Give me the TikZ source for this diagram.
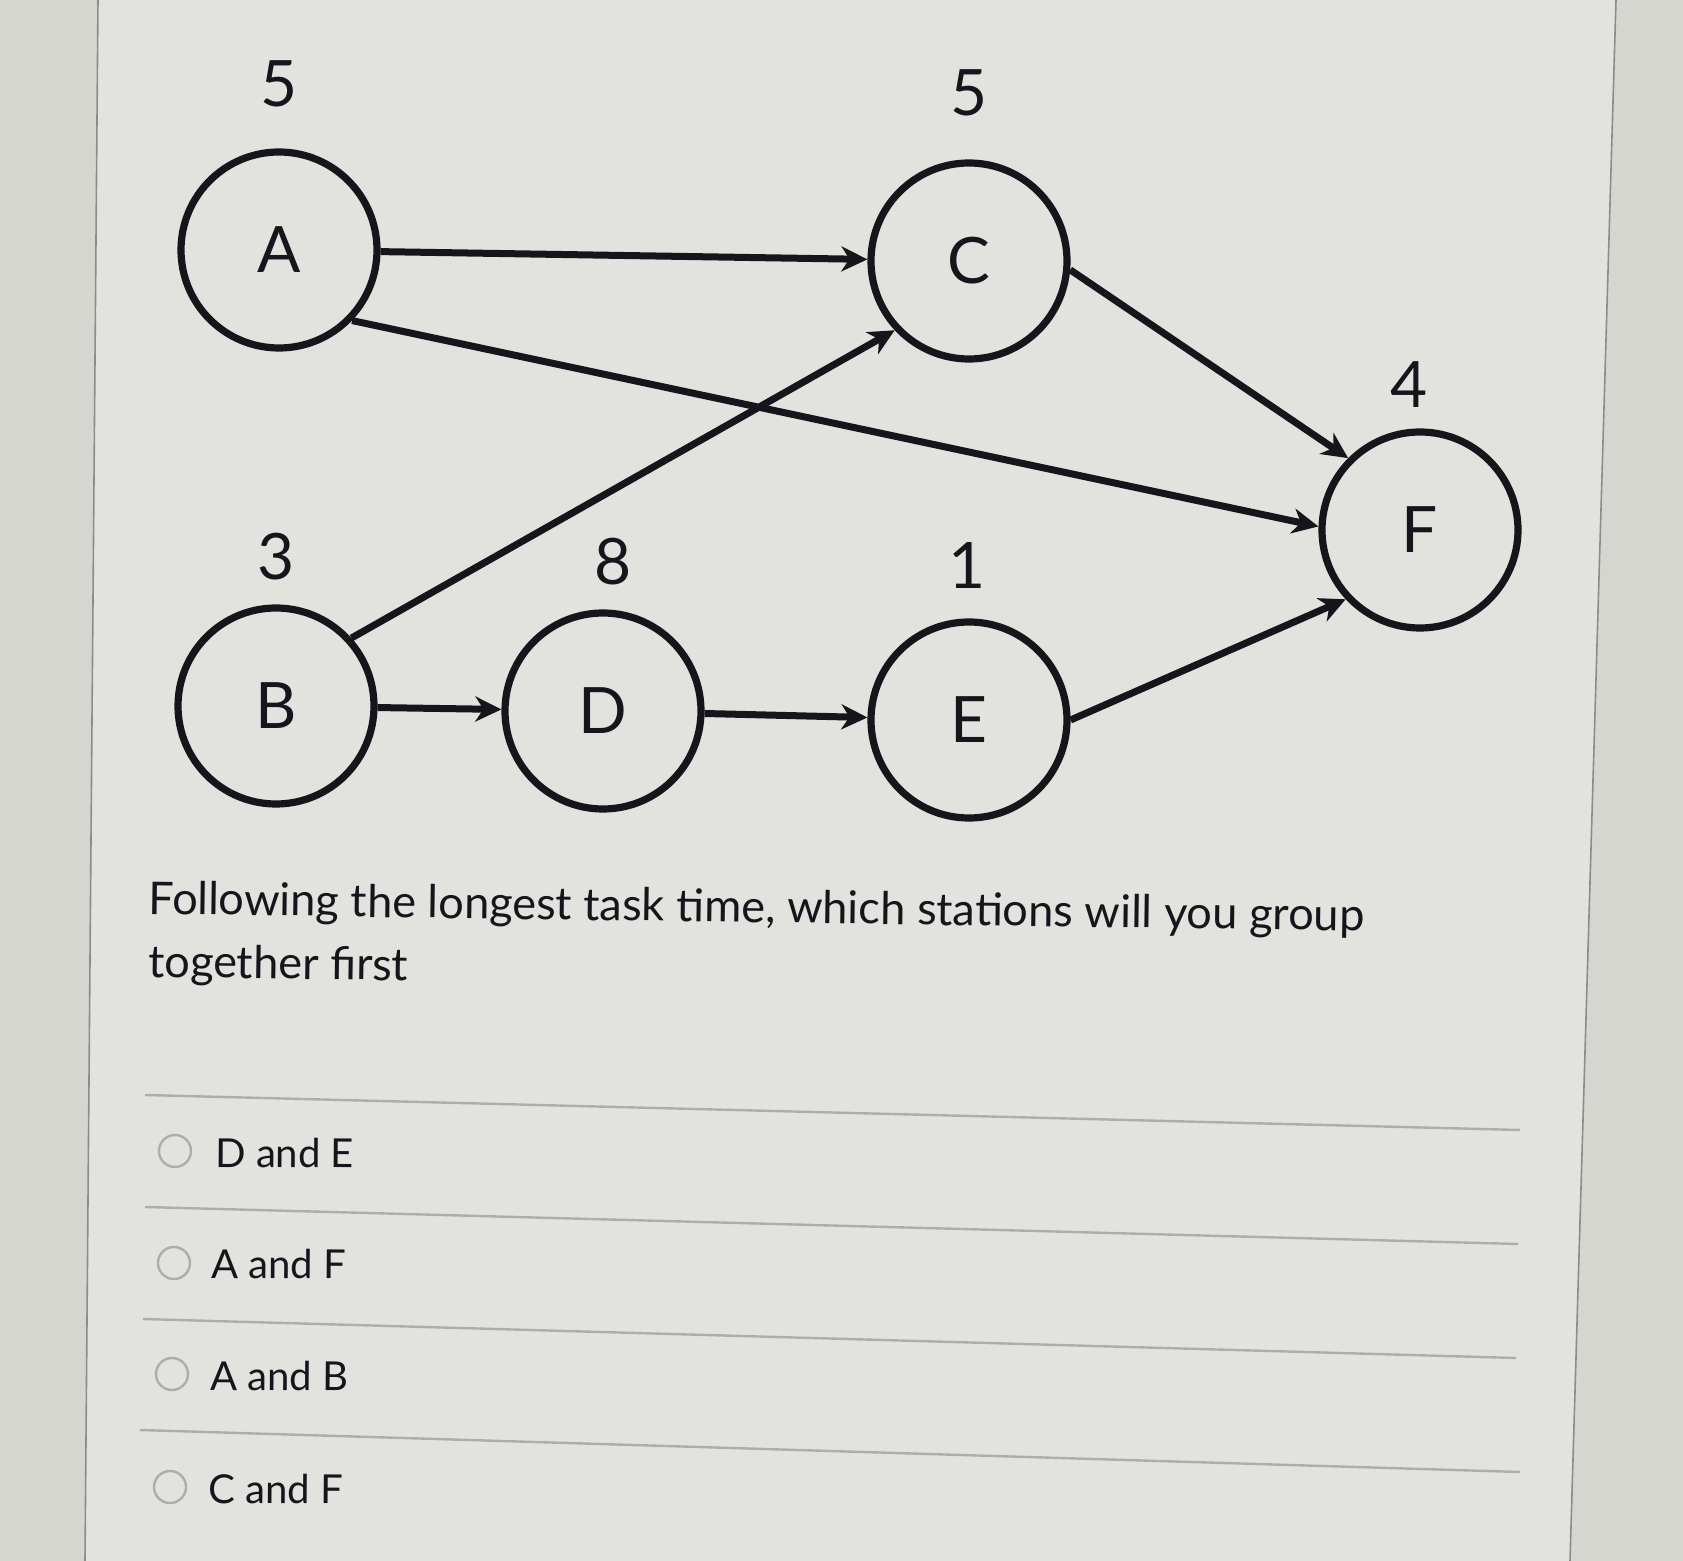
\documentclass[tikz,border=0pt]{standalone}
\usepackage{fontspec}
\setmainfont{Lato}
\usetikzlibrary{arrows.meta}
\definecolor{panel}{HTML}{E2E2DE}
\definecolor{outside}{HTML}{D6D6D1}
\definecolor{ink}{HTML}{17151C}
\definecolor{sepgray}{HTML}{ADADA9}
\definecolor{bordergray}{HTML}{8C8C8C}
\begin{document}
\begin{tikzpicture}[x=0.5pt,y=-0.5pt,
  station/.style={circle,draw=ink,line width=3.6pt,minimum size=98pt,inner sep=0pt,
    font=\fontsize{32}{38}\selectfont,text=ink},
  tasktime/.style={anchor=base,font=\fontsize{32}{38}\selectfont,text=ink,inner sep=0pt},
  flow/.style={draw=ink,line width=3.5pt,-{Stealth[length=13pt,width=12.5pt,inset=4pt]}},
  question/.style={anchor=base west,inner sep=0pt,rotate=-0.8,font=\fontsize{22.6}{27}\selectfont,text=ink},
  option/.style={anchor=base west,inner sep=0pt,rotate=-0.4,font=\fontsize{20}{24}\selectfont,text=ink},
  radio/.style={circle,draw=sepgray,line width=1.2pt,minimum size=16pt,inner sep=0pt},
  sepline/.style={draw=sepgray,line width=1.2pt}
]
\useasboundingbox (0,0) rectangle (1683,1561);
\fill[outside] (0,0) rectangle (1683,1561);
\fill[panel] (98,0) -- (1616,0) -- (1570,1561) -- (85,1561) -- cycle;
\draw[bordergray,line width=0.8pt] (98,0) -- (85,1561);
\draw[bordergray,line width=0.8pt] (1616,0) -- (1570,1561);

% stations
\node[station] (A) at (279,250) {A};
\node[station] (C) at (969,261) {C};
\node[station] (F) at (1420,530) {F};
\node[station] (B) at (276,706) {B};
\node[station] (D) at (603,711) {D};
\node[station] (E) at (969,720) {E};

% task times
\node[tasktime] (tA) at (279,107) {5};
\node[tasktime] (tC) at (969,116) {5};
\node[tasktime] (tF) at (1409,408) {4};
\node[tasktime] (tB) at (276,580) {3};
\node[tasktime] (tD) at (613,585) {8};
\node[tasktime] (tE) at (967,589) {1};

% precedence arrows
\draw[flow] (A) -- (C);
\draw[flow] (A.-44) -- (F.178);
\draw[flow] (C.-5) -- (F.135);
\draw[flow] (B.42) -- (C.223);
\draw[flow] (B) -- (D);
\draw[flow] (D) -- (E);
\draw[flow] (E.east) -- (F.223);

% question
\node[question] (q1) at (148,914) {Following the longest task time, which stations will you group};
\node[question] (q2) at (148,977) {together first};

% separators
\draw[sepline] (145,1095) -- (1520,1130);
\draw[sepline] (145,1207) -- (1518,1244);
\draw[sepline] (143,1319) -- (1516,1358);
\draw[sepline] (140,1430) -- (1520,1472);

% options
\node[radio] (r1) at (175,1151) {};
\node[radio] (r2) at (174,1263) {};
\node[radio] (r3) at (172,1374) {};
\node[radio] (r4) at (170,1487) {};
\node[option] (o1) at (215,1167) {D and E};
\node[option] (o2) at (211,1278) {A and F};
\node[option] (o3) at (210,1390) {A and B};
\node[option] (o4) at (208,1503) {C and F};
\end{tikzpicture}
\end{document}
